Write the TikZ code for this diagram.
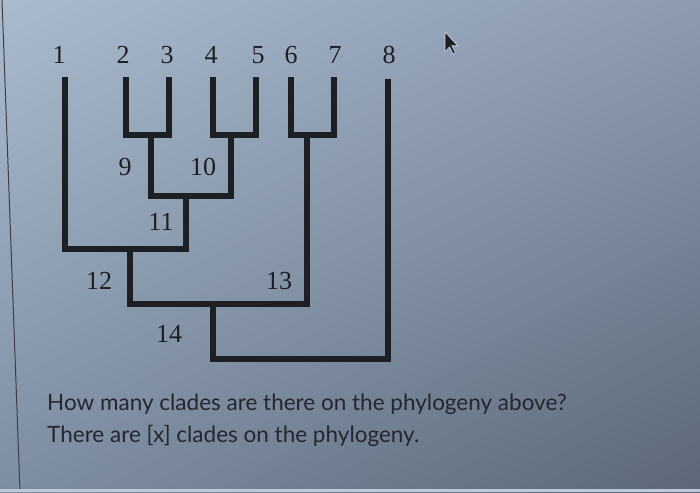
\documentclass[tikz,border=0pt]{standalone}
\usepackage{fontspec}
\setmainfont{Liberation Serif}
\newfontfamily\qfont{Lato}
\usetikzlibrary{positioning,shadings}
\definecolor{bgul}{RGB}{170,187,206}
\definecolor{bgur}{RGB}{140,155,176}
\definecolor{bgll}{RGB}{126,142,162}
\definecolor{bglr}{RGB}{92,104,121}
\definecolor{ink}{RGB}{28,31,36}
\definecolor{qink}{RGB}{34,39,48}

\begin{document}
\begin{tikzpicture}[x=1pt, y=-1pt,
    branch/.style={line width=6pt, draw=ink, line join=miter},
    lbl/.style={font=\fontsize{26}{26}\selectfont, text=ink, inner sep=0pt},
    question/.style={font=\qfont\fontsize{22.5}{23}\selectfont, text=qink, anchor=west, inner sep=0pt}]
  \useasboundingbox (0, 0) rectangle (700, 492);
  % screen background
  \shade [upper left=bgul, upper right=bgur, lower left=bgll, lower right=bglr] (0, 0) rectangle (700, 492);
  \draw [line width=1pt, draw=black!55!bgll] (2, 0) -- (20, 492);
  \fill [fill=bgul!80!white] (0, 489) rectangle (700, 492);
  % tips
  \coordinate (t1) at (65, 77);
  \coordinate (t2) at (126, 77);
  \coordinate (t3) at (169, 77);
  \coordinate (t4) at (213, 77);
  \coordinate (t5) at (256, 77);
  \coordinate (t6) at (291, 77);
  \coordinate (t7) at (334, 77);
  \coordinate (t8) at (388, 79);
  % internal nodes
  \coordinate (j9) at (151, 135);
  \coordinate (j10) at (231, 135);
  \coordinate (j11) at (186, 196);
  \coordinate (j12) at (130, 249);
  \coordinate (j13) at (307, 135);
  \coordinate (j14) at (213, 304);
  \coordinate (root) at (213, 359);
  % branches
  \draw [branch] (t2) |- (j9) -| (t3);
  \draw [branch] (t4) |- (j10) -| (t5);
  \draw [branch] (t6) |- (j13) -| (t7);
  \draw [branch] (j9) |- (j11) -| (j10);
  \draw [branch] (t1) |- (j12) -| (j11);
  \draw [branch] (j12) |- (j14) -| (j13);
  \draw [branch] (j14) -- (root) -| (t8);
  % tip labels
  \node [lbl] (l1) at (59, 55) {1};
  \node [lbl] (l2) at (123, 55) {2};
  \node [lbl] (l3) at (167, 55) {3};
  \node [lbl] (l4) at (211, 55) {4};
  \node [lbl] (l5) at (258, 55) {5};
  \node [lbl] (l6) at (291, 55) {6};
  \node [lbl] (l7) at (335, 55) {7};
  \node [lbl] (l8) at (389, 55) {8};
  % node labels
  \node [lbl] (l9) at (125, 167) {9};
  \node [lbl] (l10) at (203, 167) {10};
  \node [lbl] (l11) at (161, 222) {11};
  \node [lbl] (l12) at (99, 281) {12};
  \node [lbl] (l13) at (279, 281) {13};
  \node [lbl] (l14) at (169, 334) {14};
  % mouse pointer
  \fill [fill=ink, draw=bgul!60!white, line width=0.6pt, shift={(445, 32)}, scale=1.15]
    (0, 0) -- (0, 17) -- (4, 13) -- (7, 19) -- (9, 18) -- (6, 12) -- (11, 12) -- cycle;
  % question
  \node [question] (q1) at (47, 404) {How many clades are there on the phylogeny above?};
  \node [question] (q2) at (47, 436) {There are [x] clades on the phylogeny.};
\end{tikzpicture}
\end{document}
